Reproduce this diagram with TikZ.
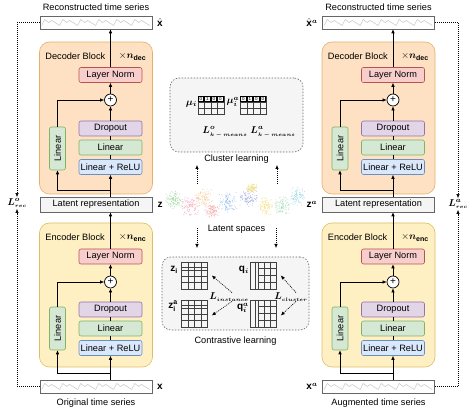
\documentclass[tikz,border=0pt]{standalone}
\usepackage{fontspec}
\setmainfont{Liberation Sans}
\usepackage{bm}
\usetikzlibrary{arrows.meta,calc}
\definecolor{lnf}{HTML}{F8CECC}\definecolor{lnd}{HTML}{B85450}
\definecolor{dof}{HTML}{E1D5E7}\definecolor{dod}{HTML}{9673A6}
\definecolor{lif}{HTML}{D5E8D4}\definecolor{lid}{HTML}{82B366}
\definecolor{rlf}{HTML}{DAE8FC}\definecolor{rld}{HTML}{6C8EBF}
\definecolor{decf}{HTML}{FDE1C2}\definecolor{decd}{HTML}{E5B068}
\definecolor{encf}{HTML}{FFF0C4}\definecolor{encd}{HTML}{DDBE62}
\definecolor{latf}{HTML}{F5F5F5}\definecolor{latd}{HTML}{666666}
\definecolor{sc1}{HTML}{8FD18F}\definecolor{sc2}{HTML}{F2A0B8}
\definecolor{sc3}{HTML}{F5C08A}\definecolor{sc4}{HTML}{F0A0A0}
\definecolor{sc5}{HTML}{8AB4E8}\definecolor{sc6}{HTML}{A0A8E0}
\definecolor{sc7}{HTML}{EDDC80}\definecolor{sc8}{HTML}{F2DC7A}
\definecolor{sc9}{HTML}{9ED8B8}\definecolor{sc10}{HTML}{9AD6E6}
\tikzset{
  txt/.style={font=\fontsize{9.2}{11}\selectfont, inner sep=0pt},
  mtxt/.style={font=\fontsize{10}{11}\selectfont, inner sep=0pt},
  block/.style={draw, rounded corners=10pt, line width=0.6pt, minimum width=113pt},
  bx/.style={draw, rounded corners=2pt, line width=0.6pt, minimum width=63pt, minimum height=15pt, inner sep=0pt, font=\fontsize{9.2}{11}\selectfont},
  lnb/.style={bx, fill=lnf, draw=lnd},
  dob/.style={bx, fill=dof, draw=dod},
  lib/.style={bx, fill=lif, draw=lid},
  rlb/.style={bx, fill=rlf, draw=rld},
  sideb/.style={draw=lid, fill=lif, rounded corners=2pt, line width=0.6pt, minimum width=16pt, minimum height=43pt, inner sep=0pt, font=\fontsize{9.2}{11}\selectfont},
  plusb/.style={circle, draw, fill=white, line width=0.7pt, minimum size=12pt, inner sep=0pt, font=\fontsize{10}{10}\selectfont},
  series/.style={draw=latd, fill=white, line width=0.6pt, minimum width=112pt, minimum height=13pt, inner sep=0pt},
  latentb/.style={draw=latd, fill=latf, line width=0.6pt, minimum width=112pt, minimum height=15pt, inner sep=0pt, font=\fontsize{9.2}{11}\selectfont},
  panel/.style={draw=latd, fill=latf, dash pattern=on 1.5pt off 1.5pt, rounded corners=9pt, line width=0.6pt},
  arr/.style={line width=0.6pt, -{Latex[length=4pt,width=3.5pt]}},
  dots/.style={line width=0.6pt, dash pattern=on 1pt off 1pt, -{Latex[length=4pt,width=3.5pt]}},
  mat/.style={draw=black!75, line width=0.6pt, inner sep=0pt, minimum width=26pt},
  gl/.style={draw=black!75, line width=0.5pt},
}
\newcommand\wave[1]{%
  \foreach \i in {0,...,5}{
    \draw[gray!45, line width=0.5pt] ($(#1.west)+(2+\i*18,3)$) -- ++(3,-6) -- ++(4,3) -- ++(3,-2) -- ++(8,5);
  }}
% #1 prefix, #2 block centre x
\newcommand\drawcol[2]{%
  \node[series] (#1top) at (#2,22.5) {};
  \wave{#1top}
  \node[block, fill=decf, draw=decd, minimum height=152pt] (#1dec) at (#2,118) {};
  \node[txt, anchor=west] (#1dect) at ($(#1dec.north west)+(6,15)$) {Decoder Block};
  \node[mtxt] (#1decn) at ($(#1dec.north)+(36.5,15)$) {$\times\bm{n}_{\mathbf{dec}}$};
  \node[lnb] (#1dln) at (#2+14.5,75) {Layer Norm};
  \node[plusb] (#1dpl) at (#2+14.5,100) {+};
  \node[dob] (#1ddo) at (#2+14.5,128.5) {Dropout};
  \node[lib] (#1dli) at (#2+14.5,147.5) {Linear};
  \node[rlb] (#1drl) at (#2+14.5,167) {Linear + ReLU};
  \node[sideb] (#1dsd) at (#2-38.5,148.5) {\rotatebox{90}{Linear}};
  \node[latentb] (#1lat) at (#2,204.5) {Latent representation};
  \coordinate (#1db) at (#2+14.5,190);
  \draw[arr] (#1lat.north -| #1drl) -- (#1drl.south);
  \draw[arr] (#1db) -| (#1dsd.south);
  \draw[arr] (#1dsd.north) |- (#1dpl.west);
  \draw[line width=0.6pt] (#1drl) -- (#1dli);
  \draw[line width=0.6pt] (#1dli) -- (#1ddo);
  \draw[arr] (#1ddo) -- (#1dpl);
  \draw[arr] (#1dpl) -- (#1dln);
  \draw[arr] (#1dln.north) -- (#1dln.north |- #1top.south);
  \node[block, fill=encf, draw=encd, minimum height=144pt] (#1enc) at (#2,295) {};
  \node[txt, anchor=west] (#1enct) at ($(#1enc.north west)+(6,15)$) {Encoder Block};
  \node[mtxt] (#1encn) at ($(#1enc.north)+(36.5,15)$) {$\times\bm{n}_{\mathbf{enc}}$};
  \node[lnb] (#1eln) at (#2+14.5,256.5) {Layer Norm};
  \node[plusb] (#1epl) at (#2+14.5,282) {+};
  \node[dob] (#1edo) at (#2+14.5,309.5) {Dropout};
  \node[lib] (#1eli) at (#2+14.5,328.5) {Linear};
  \node[rlb] (#1erl) at (#2+14.5,348) {Linear + ReLU};
  \node[sideb] (#1esd) at (#2-38.5,328.5) {\rotatebox{90}{Linear}};
  \node[series] (#1bot) at (#2,386.5) {};
  \wave{#1bot}
  \coordinate (#1eb) at (#2+14.5,373);
  \draw[arr] (#1bot.north -| #1erl) -- (#1erl.south);
  \draw[arr] (#1eb) -| (#1esd.south);
  \draw[arr] (#1esd.north) |- (#1epl.west);
  \draw[line width=0.6pt] (#1erl) -- (#1eli);
  \draw[line width=0.6pt] (#1eli) -- (#1edo);
  \draw[arr] (#1edo) -- (#1epl);
  \draw[arr] (#1epl) -- (#1eln);
  \draw[arr] (#1eln.north) -- (#1eln.north |- #1lat.south);
}
% grid helpers
\newcommand\vlines[2]{\foreach \f in {#2}{\draw[gl] ($(#1.north west)!\f!(#1.north east)$) -- ($(#1.south west)!\f!(#1.south east)$);}}
\newcommand\hlines[2]{\foreach \f in {#2}{\draw[gl] ($(#1.north west)!\f!(#1.south west)$) -- ($(#1.north east)!\f!(#1.south east)$);}}
\newcommand\hlinesr[3]{\foreach \f in {#3}{\draw[gl] ($(#1.north west)!\f!(#1.south west)+(#2,0)$) -- ($(#1.north east)!\f!(#1.south east)$);}}
\newcommand\sss[1]{\mbox{\fontsize{5.3}{6}\selectfont$\bm{#1}$}}
\begin{document}
\begin{tikzpicture}[x=1pt,y=-1pt]
\useasboundingbox (0,0) rectangle (474,411);
\drawcol{L}{96}
\drawcol{R}{378.5}
% texts around columns
\node[txt] (Ltt) at (96,7) {Reconstructed time series};
\node[txt] (Rtt) at (378.5,7) {Reconstructed time series};
\node[txt] (Lbt) at (96,403) {Original time series};
\node[txt] (Rbt) at (378.5,403) {Augmented time series};
\node[mtxt] (Lxh) at (160,22.5) {$\hat{\mathbf{x}}$};
\node[mtxt] (Rxh) at (312,23) {$\hat{\mathbf{x}}^{\bm{a}}$};
\node[mtxt] (Lz) at (160,204.5) {$\mathbf{z}$};
\node[mtxt] (Rz) at (312,204.5) {$\mathbf{z}^{\bm{a}}$};
\node[mtxt] (Lx) at (160,386.5) {$\mathbf{x}$};
\node[mtxt] (Rx) at (312,386.5) {$\mathbf{x}^{\bm{a}}$};
\node[mtxt, inner sep=1pt] (Lrec) at (17,203) {$\bm{L}^{\bm{o}}_{\sss{rec}}$};
\node[mtxt, inner sep=1pt] (Rrec) at (458,204) {$\bm{L}^{\bm{a}}_{\sss{rec}}$};
\draw[dots] (Ltop.west) -| (Lrec.north);
\draw[dots] (Lbot.west) -| (Lrec.south);
\draw[dots] (Rtop.east) -| (Rrec.north);
\draw[dots] (Rbot.east) -| (Rrec.south);
% cluster learning panel
\node[panel, minimum width=133pt, minimum height=74pt] (clu) at (236.5,115) {};
\node[txt] (clut) at (236.5,159) {Cluster learning};
\node[mtxt, anchor=east] (mu) at (197,104) {$\bm{\mu_i}$};
\node[mat, minimum height=18pt] (mug) at (211,105) {};
\vlines{mug}{0.25,0.5,0.75}
\hlines{mug}{0.333,0.667}
\node[mtxt, anchor=east] (mua) at (239.5,102) {$\bm{\mu_i^a}$};
\node[mat, minimum height=18pt] (muag) at (253.5,105) {};
\vlines{muag}{0.25,0.5,0.75}
\hlines{muag}{0.333,0.667}
\foreach \g in {mug,muag}{
  \foreach \d [count=\c from 0] in {0,1,0,0}{
    \node[draw, line width=0.8pt, minimum width=5.6pt, minimum height=5pt, inner sep=0pt, font=\fontsize{4.5}{5}\selectfont] at ($(\g.north west)+(3.25+\c*6.5,3)$) {\d};
  }
}
\node[mtxt] (lko) at (225,132) {$\bm{L}^{\bm{o}}_{\sss{k-means}}$};
\node[mtxt] (lka) at (273,132) {$\bm{L}^{\bm{a}}_{\sss{k-means}}$};
% latent spaces scatter
\pgfmathsetseed{11}
\foreach \cx/\cy/\rx/\ry/\col in {174/200/10/10/sc1,190/206/10/10/sc2,204/198/10/10/sc3,212/211/8/7/sc4,228/202/10/11/sc5,248/198/10/9/sc6,252/188/6/5/sc7,266/206/8/10/sc8,282/205/9/10/sc9,297/196/8/10/sc10}{
  \foreach \k in {1,...,110}{
    \fill[\col, opacity=0.8] ({\cx+\rx*0.5*(rand+rand)},{\cy+\ry*0.5*(rand+rand)}) circle (0.45pt);
  }
}
\node[txt] (lst) at (236.5,229) {Latent spaces};
\coordinate (u1s) at (197,184); \coordinate (u1e) at (197,165);
\coordinate (u2s) at (277,184); \coordinate (u2e) at (277,165);
\draw[dots] (u1s) -- (u1e);
\draw[dots] (u2s) -- (u2e);
\coordinate (d1s) at (197,228); \coordinate (d1e) at (197,248);
\coordinate (d2s) at (276,228); \coordinate (d2e) at (276,248);
\draw[dots] (d1s) -- (d1e);
\draw[dots] (d2s) -- (d2e);
% contrastive learning panel
\node[panel, minimum width=147pt, minimum height=73pt] (con) at (235.5,293.5) {};
\node[txt] (cont) at (235.5,341) {Contrastive learning};
\foreach \n/\y in {zi/275.5,zia/313.5}{
  \node[mat, minimum height=27pt] (\n) at (194.5,\y) {};
  \vlines{\n}{0.25,0.5,0.75}
  \hlines{\n}{0.2,0.3,0.53,0.76}
}
\foreach \n/\y in {qi/275.5,qia/313.5}{
  \node[mat, minimum height=27pt] (\n) at (263.5,\y) {};
  \vlines{\n}{0.2,0.3,0.53,0.76}
  \hlinesr{\n}{7.8}{0.25,0.5,0.75}
}
\node[mtxt, anchor=east] (zil) at (178,270) {$\mathbf{z_i}$};
\node[mtxt, anchor=east] (zial) at (178,306) {$\mathbf{z_i^a}$};
\node[mtxt, anchor=east] (qil) at (249,270) {$\mathbf{q}_{\bm{i}}$};
\node[mtxt, anchor=east] (qial) at (249,308) {$\mathbf{q}_{\bm{i}}^{\bm{a}}$};
\node[mtxt] (linst) at (229,297) {$\bm{L}_{\sss{instance}}$};
\node[mtxt] (lclu) at (291,297) {$\bm{L}_{\sss{cluster}}$};
\draw[dots] ($(linst.north)+(3,0)$) -- ($(zi.east)+(4,0)$);
\draw[dots] ($(linst.south)+(3,0)$) -- ($(zia.east)+(4,2)$);
\draw[dots] ($(lclu.north)+(5,0)$) -- ($(qi.east)+(4,0)$);
\draw[dots] ($(lclu.south)+(5,0)$) -- ($(qia.east)+(4,2)$);
\end{tikzpicture}
\end{document}
